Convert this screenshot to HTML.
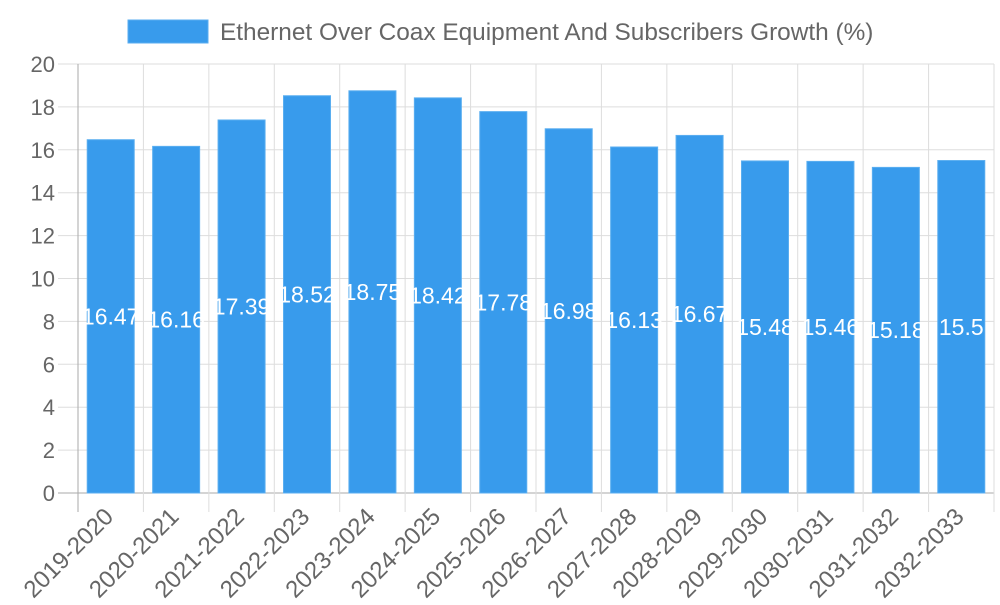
<!DOCTYPE html>
<html><head><style>body{margin:0;background:#fff}svg text{font-family:"Liberation Sans",sans-serif}</style></head>
<body>
<svg id="c" width="1000" height="600">
<rect x="128" y="20" width="80" height="23" fill="#389bec" stroke="#5aaef0"></rect>
<text x="220" y="40" font-size="24.4" fill="#666">Ethernet Over Coax Equipment And Subscribers Growth (%)</text>
</svg>
<script>
const categories=["2019-2020","2020-2021","2021-2022","2022-2023","2023-2024","2024-2025","2025-2026","2026-2027","2027-2028","2028-2029","2029-2030","2030-2031","2031-2032","2032-2033"];
const values=[16.47,16.16,17.39,18.52,18.75,18.42,17.78,16.98,16.13,16.67,15.48,15.46,15.18,15.5];
const yTicks=[0,2,4,6,8,10,12,14,16,18,20];
const svg=document.getElementById('c');const NS="http://www.w3.org/2000/svg";
const L=78,R=994,T=64,B=493,yMax=20;
const bw=(R-L)/categories.length;
const y=v=>B-(v/yMax)*(B-T);
const x=i=>L+bw*i;
function mk(t,a){const e=document.createElementNS(NS,t);for(const k in a)e.setAttribute(k,a[k]);svg.appendChild(e);return e;}
yTicks.forEach(t=>{
 const g=mk('line',{x1:58,x2:R,y1:y(t),y2:y(t),stroke:t===0?'#aaa':'#ddd'});
 
 
 const l=mk('text',{x:55,y:y(t)+8,'text-anchor':'end','font-size':22,fill:'#666'});l.textContent=t;
 
 
});
for(let i=0;i<=categories.length;i++){
 const g=mk('line',{x1:x(i),x2:x(i),y1:T,y2:512,stroke:i===0?'#aaa':'#ddd'});
 
 
}
categories.forEach((c,i)=>{
 const cx=x(i)+bw/2,w=47;
 const b=mk('rect',{x:cx-w/2,y:y(values[i]),width:w,height:B-y(values[i]),fill:'#389bec',stroke:'#5aaef0'});
 
 
 const v=mk('text',{x:cx,y:(y(values[i])+B)/2+8,'text-anchor':'middle','font-size':23,fill:'#fff'});v.textContent=values[i];
 
 
 const tx=x(i)+bw/2+4,ty=518;
 const l=mk('text',{x:tx,y:ty,'text-anchor':'end','font-size':24,fill:'#666',transform:`rotate(-45 ${tx} ${ty})`});l.textContent=c;
 
 
});
</script>
</body></html>
